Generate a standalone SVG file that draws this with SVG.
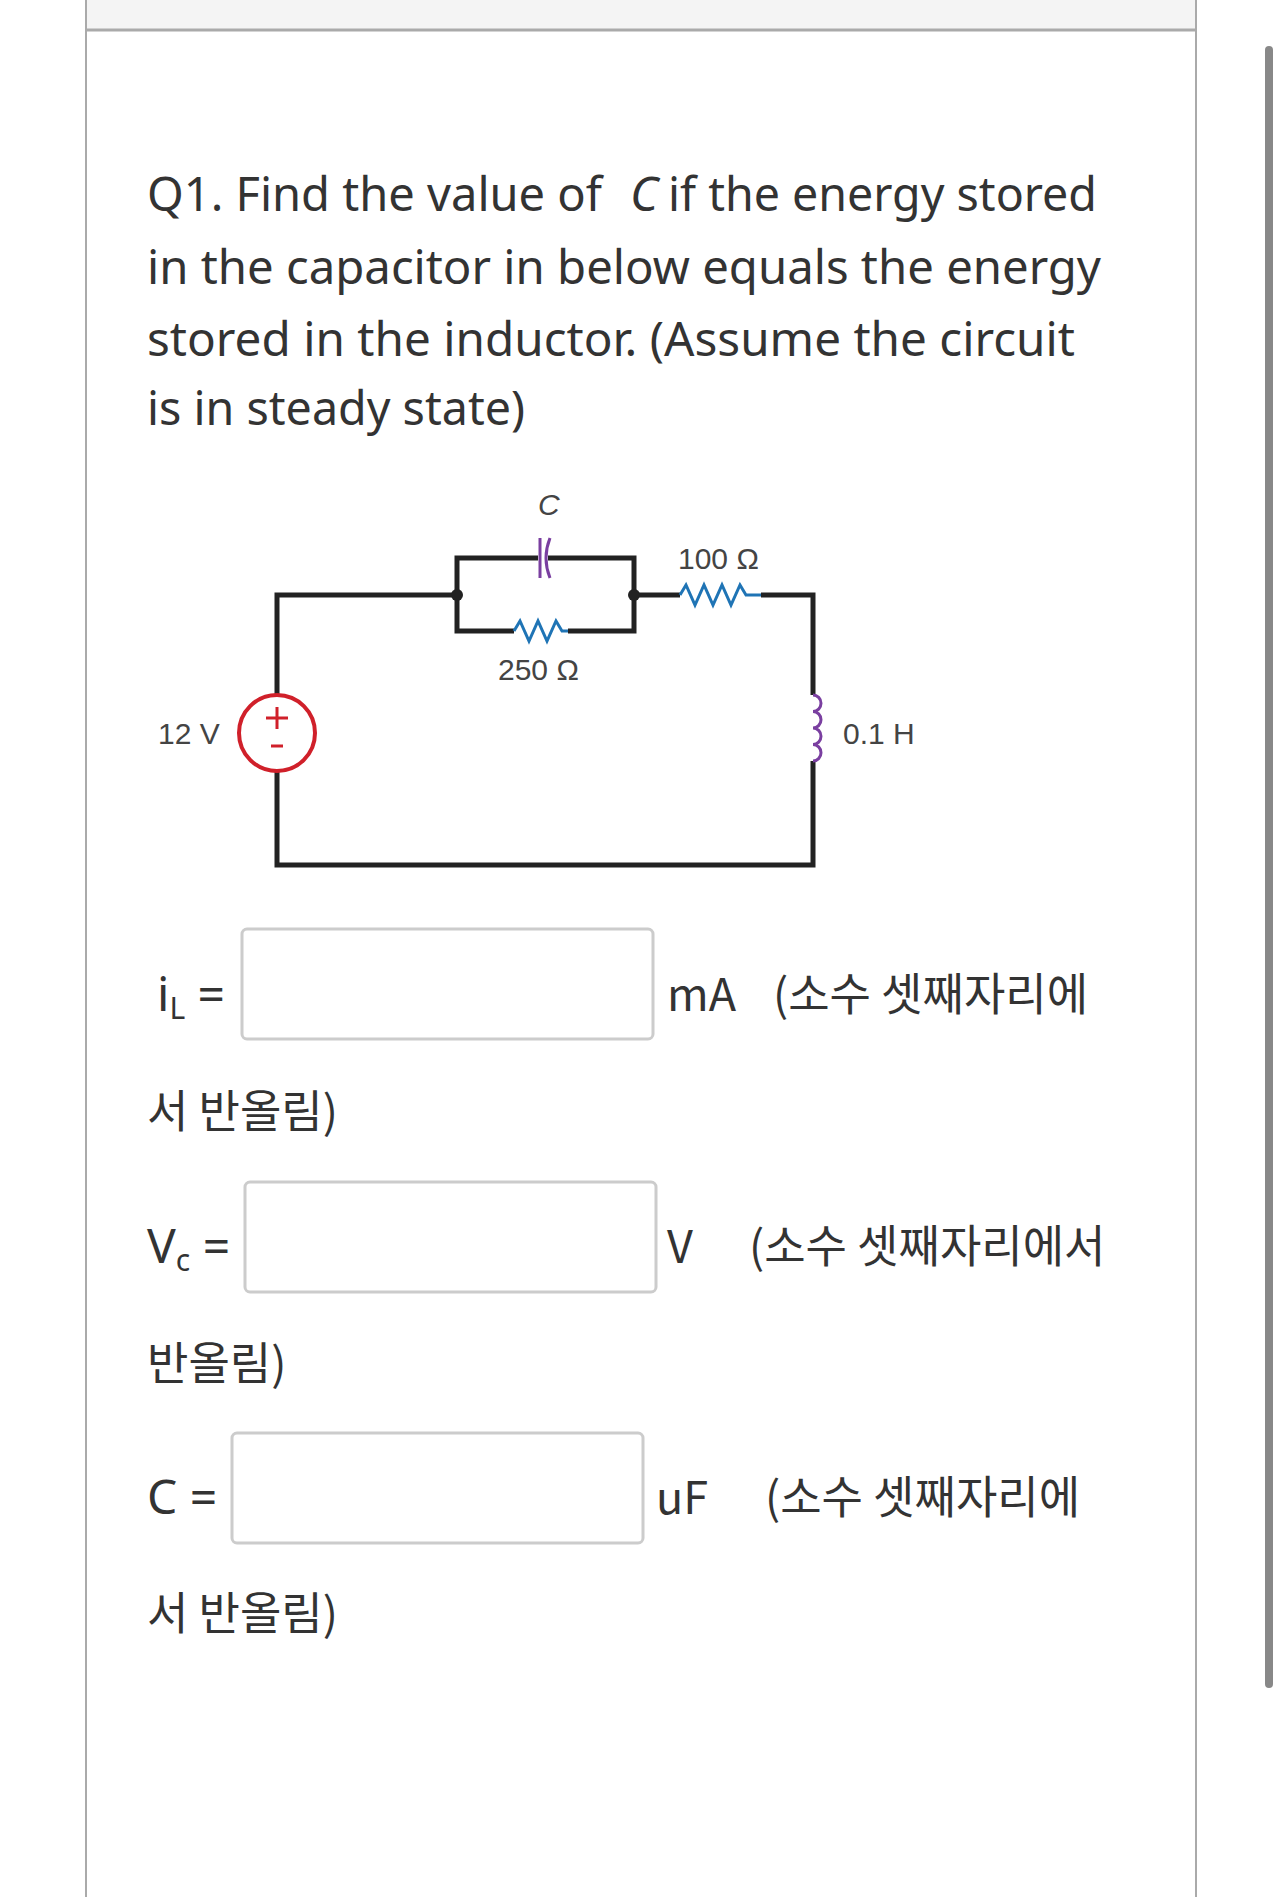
<svg xmlns="http://www.w3.org/2000/svg" width="1281" height="1897" viewBox="0 0 1281 1897">
<style>
.t{font-family:"Noto Sans","Noto Sans CJK KR",sans-serif;font-size:48px;fill:#333}
.k{font-family:"Noto Sans CJK KR","Noto Sans",sans-serif;font-size:45px;fill:#333}
.c{font-family:"Liberation Sans",sans-serif;font-size:30px;fill:#444}
.w{fill:none;stroke:#222;stroke-width:5}
.box{fill:#fff;stroke:#ccc;stroke-width:3}
</style>
<rect width="1281" height="1897" fill="#fff"/>
<g id="frame">
<rect x="85" y="0" width="1111" height="30" fill="#f4f4f4"/>
<line x1="85" y1="30" x2="1196" y2="30" stroke="#aaa" stroke-width="3"/>
<line x1="86" y1="0" x2="86" y2="1897" stroke="#aaa" stroke-width="2"/>
<line x1="1196" y1="0" x2="1196" y2="1897" stroke="#aaa" stroke-width="2"/>
<line x1="1269" y1="50" x2="1269" y2="1684" stroke="#888" stroke-width="8" stroke-linecap="round"/>
</g>
<g id="question">
<text class="t" x="147" y="211" textLength="455" lengthAdjust="spacingAndGlyphs">Q1. Find the value of</text>
<text class="t" x="630" y="211" font-style="italic">C</text>
<text class="t" x="668" y="211" textLength="429" lengthAdjust="spacingAndGlyphs">if the energy stored</text>
<text class="t" x="147" y="284" textLength="954" lengthAdjust="spacingAndGlyphs">in the capacitor in below equals the energy</text>
<text class="t" x="147" y="356" textLength="928" lengthAdjust="spacingAndGlyphs">stored in the inductor. (Assume the circuit</text>
<text class="t" x="147" y="425" textLength="378" lengthAdjust="spacingAndGlyphs">is in steady state)</text>
</g>
<g id="connectors">
<polyline class="w" points="277,695 277,595 457,595"/>
<polyline class="w" points="277,771 277,865 813,865 813,761"/>
<polyline class="w" points="813,695 813,595 761,595"/>
<polyline class="w" points="634,595 680,595"/>
<polyline class="w" points="457,595 457,558 538,558"/>
<polyline class="w" points="548,558 634,558 634,631 568,631"/>
<polyline class="w" points="514,631 457,631 457,595"/>
<circle cx="457" cy="595" r="6" fill="#222"/>
<circle cx="634" cy="595" r="6" fill="#222"/>
</g>
<g id="source">
<circle cx="277" cy="733" r="38" fill="#fff" stroke="#d0202a" stroke-width="4"/>
<path d="M277 707v22M266 718h22M271 746h12" stroke="#d0202a" stroke-width="3"/>
<text class="c" x="158" y="744">12 V</text>
</g>
<g id="capacitor">
<line x1="540" y1="538" x2="540" y2="578" stroke="#7a3fa0" stroke-width="3"/>
<path d="M550 538q-8 20 0 40" fill="none" stroke="#7a3fa0" stroke-width="3"/>
<text class="c" x="538" y="515" font-family="Liberation Serif" font-style="italic">C</text>
</g>
<g id="r250">
<polyline points="514,631 520,621 529,641 538,621 547,641 556,621 562,631 568,631" fill="none" stroke="#1f74b5" stroke-width="3"/>
<text class="c" x="498" y="680">250 Ω</text>
</g>
<g id="r100">
<polyline points="680,595 686,585 695,605 704,585 713,605 722,585 731,605 740,585 746,595 761,595" fill="none" stroke="#1f74b5" stroke-width="3"/>
<text class="c" x="678" y="569">100 Ω</text>
</g>
<g id="inductor">
<path d="M813 695a8 8.25 0 0 1 0 16.5a8 8.25 0 0 1 0 16.5a8 8.25 0 0 1 0 16.5a8 8.25 0 0 1 0 16.5" fill="none" stroke="#7a3fa0" stroke-width="3"/>
<text class="c" x="843" y="744">0.1 H</text>
</g>
<g id="answer1">
<rect class="box" x="242" y="929" width="411" height="110" rx="5"/>
<text class="t" x="157" y="1011">i<tspan font-size="30" dy="8">L</tspan><tspan dy="-8"> =</tspan></text>
<text class="k" x="667" y="1011">mA</text>
<text class="k" x="773" y="1011">(소수 셋째자리에</text>
<text class="k" x="147" y="1128">서 반올림)</text>
</g>
<g id="answer2">
<rect class="box" x="245" y="1182" width="411" height="110" rx="5"/>
<text class="t" x="147" y="1263">V<tspan font-size="30" dy="8">c</tspan><tspan dy="-8"> =</tspan></text>
<text class="k" x="667" y="1263">V</text>
<text class="k" x="749" y="1263">(소수 셋째자리에서</text>
<text class="k" x="147" y="1380">반올림)</text>
</g>
<g id="answer3">
<rect class="box" x="232" y="1433" width="411" height="110" rx="5"/>
<text class="t" x="147" y="1514">C =</text>
<text class="k" x="656" y="1514">uF</text>
<text class="k" x="765" y="1514">(소수 셋째자리에</text>
<text class="k" x="147" y="1630">서 반올림)</text>
</g>
</svg>
